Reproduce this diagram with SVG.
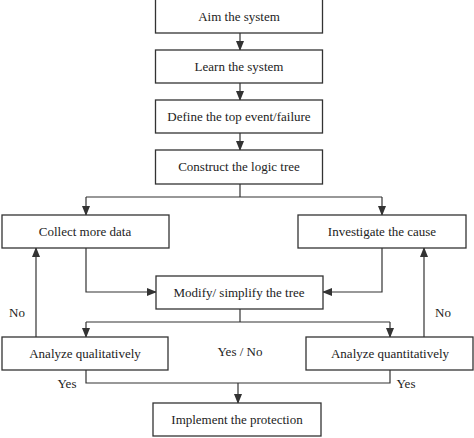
<svg xmlns="http://www.w3.org/2000/svg" width="474" height="438" viewBox="0 0 474 438">
<style>
.box{fill:#fff;stroke:#333;stroke-width:1.3}
.t{font-family:'Liberation Serif','Times New Roman','DejaVu Serif',serif;font-size:13px;fill:#222;text-anchor:middle}
.c{fill:none;stroke:#333;stroke-width:1.2}
</style>
<defs>
<marker id="ah" markerWidth="10" markerHeight="8" refX="9" refY="4" orient="auto" markerUnits="userSpaceOnUse">
<path d="M0,0 L10,4 L0,8 Z" fill="#333"/>
</marker>
</defs>
<rect width="474" height="438" fill="#fff"/>
<g id="connectors">
<path class="c" d="M240,33 V50" marker-end="url(#ah)"/>
<path class="c" d="M240,83 V100" marker-end="url(#ah)"/>
<path class="c" d="M240,133 V150" marker-end="url(#ah)"/>
<path class="c" d="M240,184 V197"/>
<path class="c" d="M86,197 H382"/>
<path class="c" d="M86,197 V215" marker-end="url(#ah)"/>
<path class="c" d="M382,197 V215" marker-end="url(#ah)"/>
<path class="c" d="M86,248 V292 H156" marker-end="url(#ah)"/>
<path class="c" d="M382,248 V292 H323" marker-end="url(#ah)"/>
<path class="c" d="M240,309 V322"/>
<path class="c" d="M86,322 H390"/>
<path class="c" d="M86,322 V337" marker-end="url(#ah)"/>
<path class="c" d="M390,322 V337" marker-end="url(#ah)"/>
<path class="c" d="M36,337 V248" marker-end="url(#ah)"/>
<path class="c" d="M424,337 V248" marker-end="url(#ah)"/>
<path class="c" d="M86,370 V383 H390 V370"/>
<path class="c" d="M238,383 V403" marker-end="url(#ah)"/>
<text class="t" x="17" y="317">No</text>
<text class="t" x="443" y="317">No</text>
<text class="t" x="240" y="356">Yes / No</text>
<text class="t" x="67" y="388">Yes</text>
<text class="t" x="406" y="388">Yes</text>
</g>
<g id="aim"><rect class="box" x="155.5" y="-2" width="167" height="35"/><text class="t" x="239" y="20.5">Aim the system</text></g>
<g id="learn"><rect class="box" x="155.5" y="50" width="167" height="33"/><text class="t" x="239" y="71">Learn the system</text></g>
<g id="define"><rect class="box" x="155.5" y="100" width="167" height="33"/><text class="t" x="239" y="121">Define the top event/failure</text></g>
<g id="construct"><rect class="box" x="155.5" y="150" width="167" height="34"/><text class="t" x="239" y="171">Construct the logic tree</text></g>
<g id="collect"><rect class="box" x="2" y="215" width="167" height="33"/><text class="t" x="85" y="236">Collect more data</text></g>
<g id="investigate"><rect class="box" x="298" y="215" width="168" height="33"/><text class="t" x="382" y="236">Investigate the cause</text></g>
<g id="modify"><rect class="box" x="156" y="276" width="167" height="33"/><text class="t" x="239" y="297">Modify/ simplify the tree</text></g>
<g id="qual"><rect class="box" x="2" y="337" width="166" height="33"/><text class="t" x="85" y="358">Analyze qualitatively</text></g>
<g id="quant"><rect class="box" x="306" y="337" width="167" height="33"/><text class="t" x="390" y="358">Analyze quantitatively</text></g>
<g id="implement"><rect class="box" x="153" y="403" width="168" height="33"/><text class="t" x="237" y="424">Implement the protection</text></g>
</svg>
